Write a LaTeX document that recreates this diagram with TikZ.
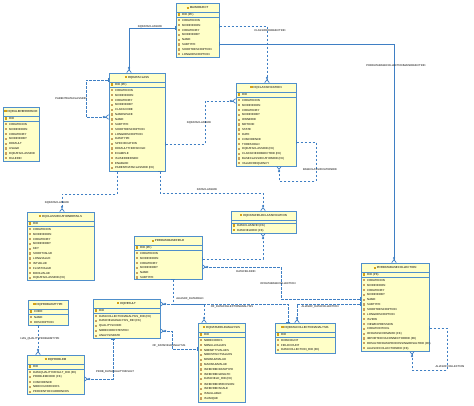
\documentclass[tikz,border=0pt]{standalone}
\usepackage{fontspec}
\setmainfont{Liberation Sans}
\usetikzlibrary{arrows.meta,calc}
\definecolor{entfill}{HTML}{FFFFC8}
\definecolor{entbord}{HTML}{4F8FCB}
\definecolor{lnk}{HTML}{3F7FC4}
\definecolor{keyc}{HTML}{D4A017}
\definecolor{attc}{HTML}{C8A060}
\newcommand\ent[9]{%
  \node[entbox,minimum width=#4pt,minimum height=#5pt,anchor=north west] (#1) at (#2,#3) {};
  \draw[entbord,line width=0.6pt] (#2,#3+9) -- ++(#4,0);
  \node[titletxt] at (#2+#4/2,#3+4.6) {\textcolor{keyc}{\rule{2.2pt}{2pt}}\hspace{1pt}#6};
  \foreach \rn [count=\i] in {#8} {
    \node[rowtxt] at (#2+6,#3+9+\i*4.85-2.3) {\rn};
    \fill[keyc] (#2+2,#3+9+\i*4.85-3.5) rectangle ++(2.4,2.2);
  }
  \draw[entbord,line width=0.6pt] (#2,#3+9.5+#7*4.85) -- ++(#4,0);
  \foreach \rn [count=\i] in {#9} {
    \node[rowtxt] at (#2+6,#3+10+#7*4.85+\i*4.85-2.3) {\rn};
    \fill[attc] (#2+2.4,#3+10+#7*4.85+\i*4.85-3.5) rectangle ++(1.6,2.2);
  }
}
\begin{document}
\begin{tikzpicture}[x=1pt,y=-1pt,
  entbox/.style={draw=entbord,fill=entfill,line width=0.8pt,inner sep=0pt,outer sep=0pt,rectangle},
  rowtxt/.style={anchor=west,inner sep=0pt,font=\fontsize{2.85}{3}\selectfont},
  titletxt/.style={inner sep=0pt,font=\fontsize{2.9}{3}\selectfont},
  lbl/.style={inner sep=0pt,font=\fontsize{2.7}{3}\selectfont},
  rel/.style={draw=lnk,line width=0.7pt,dash pattern=on 2.4pt off 1.6pt},
  idrel/.style={draw=lnk,line width=0.7pt},
  om/.style={arrows={{Bar[width=4.5pt,line width=0.7pt]}-{Circle[open,length=2.2pt,width=2.2pt,line width=0.6pt]Straight Barb[reversed,length=3pt,width=4.5pt,line width=0.7pt]}}},
  mo/.style={arrows={{Straight Barb[reversed,length=3pt,width=4.5pt,line width=0.7pt]Circle[open,length=2.2pt,width=2.2pt,line width=0.6pt]}-{Bar[width=4.5pt,line width=0.7pt]}}}
]
\useasboundingbox (0,0) rectangle (474,405);
\fill[white] (0,0) rectangle (474,405);

\ent{mo}{176}{3}{43}{54}{MAINOBJECT}{1}{RID (PK)}{CREATEDON,MODIFIEDON,CREATEDBY,MODIFIEDBY,NAME,SUBTYPE,SHORTDESCRIPTION,LONGDESCRIPTION}
\ent{dc}{109}{73}{56}{98}{DQDATACLASS}{1}{RID (PK)}{CREATEDON,MODIFIEDON,CREATEDBY,MODIFIEDBY,CLASSCODE,NAMESPACE,NAME,SUBTYPE,SHORTDESCRIPTION,LONGDESCRIPTION,DATATYPE,SPECIFICATION,DEFAULTTHRESHOLD,EXAMPLE,ISUSERDEFINED,ENABLED,PARENTDATACLASSRID (FK)}
\ent{cls}{236}{83}{60}{83}{DQCLASSIFICATION}{1}{RID}{CREATEDON,MODIFIEDON,CREATEDBY,MODIFIEDBY,OWNERID,METHOD,STATE,DATE,CONFIDENCE,THRESHOLD,DQDATACLASSRID (FK),CLASSIFIEDOBJECTRID (FK),BASECLASSIFICATIONRID (FK),VALUEFREQUENCY}
\ent{rr}{3}{107}{36}{54}{DQRULEREFERENCE}{1}{RID}{CREATEDON,MODIFIEDON,CREATEDBY,MODIFIEDBY,DEFAULT,USAGE,DQDATACLASSRID,RULERID}
\ent{cd}{27}{212}{67}{68}{DQCLASSIFICATIONDETAILS}{1}{RID}{CREATEDON,MODIFIEDON,CREATEDBY,MODIFIEDBY,KEY,SHORTVALUE,LONGVALUE,INTVALUE,FLOATVALUE,BOOLVALUE,DQDATACLASSRID (FK)}
\ent{dbf}{134}{236}{68}{43}{PDRDATABASEFIELD}{1}{RID (PK)}{CREATEDON,MODIFIEDON,CREATEDBY,MODIFIEDBY,NAME,SUBTYPE}
\ent{pt}{28}{300}{40}{25}{DQPROBLEMTYPE}{1}{CODE}{NAME,DESCRIPTION}
\ent{pb}{27}{355}{57}{39.5}{DQPROBLEM}{1}{RID}{DATAQUALITYRESULT\_RID (FK),PROBLEMCODE (FK),CONFIDENCE,NBOCCURRENCES,PERCENTOCCURRENCES}
\ent{res}{93}{299}{67}{39.5}{DQRESULT}{1}{RID}{DATACOLLECTIONANALYSIS\_RID (FK),DATAFIELDANALYSIS\_RID (FK),QUALITYSCORE,NBRECORDSTESTED,ANALYSISDATE}
\ent{dfa}{198}{323}{47}{79}{DQDATAFIELDANALYSIS}{1}{RID}{NBRECORDS,NBNULLVALUES,NBEMPTYVALUES,NBDISTINCTVALUES,MINIMUMVALUE,MAXIMUMVALUE,INFERREDDATATYPE,INFERREDLENGTH,DATAFIELD\_RID (FK),INFERREDPRECISION,INFERREDSCALE,ISNULLABLE,ISUNIQUE}
\ent{dca}{275}{323}{60}{30}{DQDATACOLLECTIONANALYSIS}{1}{RID}{ROWCOUNT,FIELDCOUNT,DATACOLLECTION\_RID (FK)}
\ent{dbc}{361}{263}{68}{88}{PDRDATABASECOLLECTION}{1}{RID (PK)}{CREATEDON,MODIFIEDON,CREATEDBY,MODIFIEDBY,NAME,SUBTYPE,SHORTDESCRIPTION,LONGDESCRIPTION,ISVIEW,VIEWEXPRESSION,CREATIONTOOL,OFDATASCHEMARID (FK),IMPORTEDVIACONNECTORRID (FK),RESULTOFDATAPROCESSINGRESULTRID (FK),ALIASOFCOLLECTIONRID (FK)}

% DQDATAFIELDCLASSIFICATION
\node[entbox,minimum width=65pt,minimum height=22pt,anchor=north west] (dfc) at (231,211) {};
\draw[entbord,line width=0.6pt] (231,220) -- ++(65,0);
\draw[entbord,line width=0.6pt] (231,223) -- ++(65,0);
\node[titletxt] at (263.5,215.6) {\textcolor{keyc}{\rule{2.2pt}{2pt}}\hspace{1pt}DQDATAFIELDCLASSIFICATION};
\node[rowtxt] at (237,225.6) {DATACLASSRID (FK)};
\node[rowtxt] at (237,230.4) {DATAFIELDRID (FK)};
\fill[keyc] (233,224.4) rectangle ++(2.4,2.2);
\fill[keyc] (233,229.2) rectangle ++(2.4,2.2);

% connectors
\draw[idrel,om] ($(mo.north west)+(0,25)$) -| ($(dc.north west)+(20,0)$);
\draw[rel,om] ($(mo.north east)+(0,23)$) -| ($(cls.north west)+(31,0)$);
\draw[idrel,om] ($(mo.north east)+(0,41)$) -| ($(dbc.north west)+(33,0)$);
\draw[rel,mo] ($(dc.north west)+(0,44)$) -- ++(-23,0) |- ($(dc.north west)+(0,7)$);
\draw[rel,om] ($(dc.north east)+(0,71)$) -- ++(40,0) |- ($(cls.north west)+(0,18)$);
\draw[rel,om] ($(cls.north east)+(0,59)$) -- ++(20,0) |- ($(cls.south west)+(43,15)$) -- ($(cls.south west)+(43,0)$);
\draw[rel,om] ($(dc.south west)+(8,0)$) |- ($(cd.north west)+(35,-18)$) -- ($(cd.north west)+(35,0)$);
\draw[rel,om] ($(dc.south west)+(51,0)$) |- ($(dfc.north west)+(32,-18)$) -- ($(dfc.north west)+(32,0)$);
\draw[rel,om] ($(dbf.north east)+(0,23)$) -| ($(dfc.south west)+(32,0)$);
\draw[rel,mo] ($(dbf.north east)+(0,31)$) -- ++(79,0) |- ($(dbc.north west)+(0,36)$);
\draw[rel,om] ($(dbf.south west)+(39,0)$) |- ($(dfa.north west)+(6,-19)$) -- ($(dfa.north west)+(6,0)$);
\draw[rel,mo] ($(res.north east)+(0,5)$) -| ($(dca.north west)+(13,0)$);
\draw[rel,mo] ($(dca.north west)+(22,0)$) |- ($(dbc.north west)+(0,41)$);
\draw[rel,mo] ($(res.north east)+(0,32)$) -- ++(12,0) |- ($(dfa.north west)+(0,26)$);
\draw[rel,om] ($(pt.south west)+(10,0)$) -- ($(pb.north west)+(11,0)$);
\draw[rel,mo] ($(pb.north east)+(0,24)$) -| ($(res.south west)+(20,0)$);
\draw[rel,om] ($(dbc.north east)+(0,65)$) -- ++(18,0) |- ($(dbc.south west)+(51,19)$) -- ($(dbc.south west)+(51,0)$);

% labels
\node[lbl] at (150,27) {DQDATACLASSRID};
\node[lbl] at (270,31) {CLASSIFIEDOBJECTRID};
\node[lbl] at (396,66) {PDRDATABASECOLLECTIONMAINOBJECTRID};
\node[lbl] at (71,99) {PARENTDATACLASSRID};
\node[lbl] at (199,123) {DQDATACLASSRID};
\node[lbl] at (320,170) {BASECLASSIFICATIONRID};
\node[lbl] at (57,203) {DQDATACLASSRID};
\node[lbl] at (207,190) {DATACLASSRID};
\node[lbl] at (246,272) {DATAFIELDRID};
\node[lbl] at (278,284) {OFDATABASECOLLECTION};
\node[lbl] at (190,299) {ALIASOF\_DATAFIELD};
\node[lbl] at (232,307) {OF\_DATACOLLECTIONANALYSIS};
\node[lbl] at (320,307) {ALIASOF\_DATACOLLECTION};
\node[lbl] at (169,346) {OF\_DATAFIELDANALYSIS};
\node[lbl] at (40,339) {HAS\_QUALITYPROBLEMTYPE};
\node[lbl] at (115,372) {PROB\_DATAQUALITYRESULT};
\node[lbl] at (450,367) {ALIASOFCOLLECTION};
\end{tikzpicture}
\end{document}
